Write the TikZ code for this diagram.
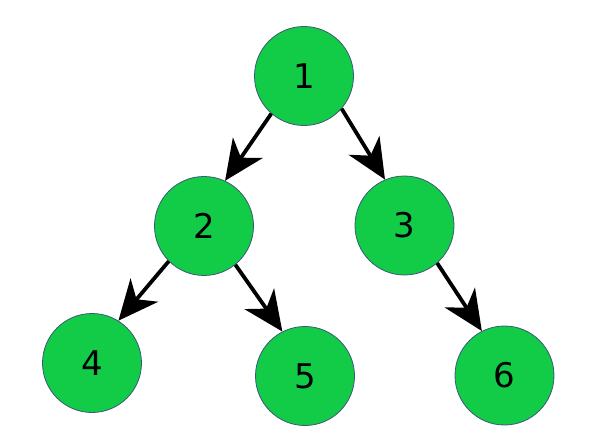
\documentclass[tikz,border=0pt]{standalone}
\usepackage{fontspec}
\setmainfont{DejaVu Sans}
\usetikzlibrary{arrows.meta}
\definecolor{nodegreen}{HTML}{12CC48}
\definecolor{rimcol}{HTML}{3A5A78}
\tikzset{
  treenode/.style={circle, fill=nodegreen, draw=rimcol, line width=0.8pt, minimum size=99pt, inner sep=0pt, font=\fontsize{34}{38}\selectfont},
  treearrow/.style={line width=3.8pt, black, -{Stealth[length=40pt,width=36pt,inset=12pt]}}
}
\begin{document}
\begin{tikzpicture}[x=1pt,y=-1pt]
\useasboundingbox (0,0) rectangle (598,428);
\node[treenode] (n1) at (304,76) {1};
\node[treenode] (n2) at (204,226) {2};
\node[treenode] (n3) at (404.5,225.5) {3};
\node[treenode] (n4) at (92,363) {4};
\node[treenode] (n5) at (305,376) {5};
\node[treenode] (n6) at (504.5,375.5) {6};
\draw[treearrow] (n1.229) -- (n2.65);
\draw[treearrow] (n1.319) -- (n3.113);
\draw[treearrow] (n2.225) -- (n4.58);
\draw[treearrow] (n2.309) -- (n5.117);
\draw[treearrow] (n3.311) -- (n6.117);
\end{tikzpicture}
\end{document}
